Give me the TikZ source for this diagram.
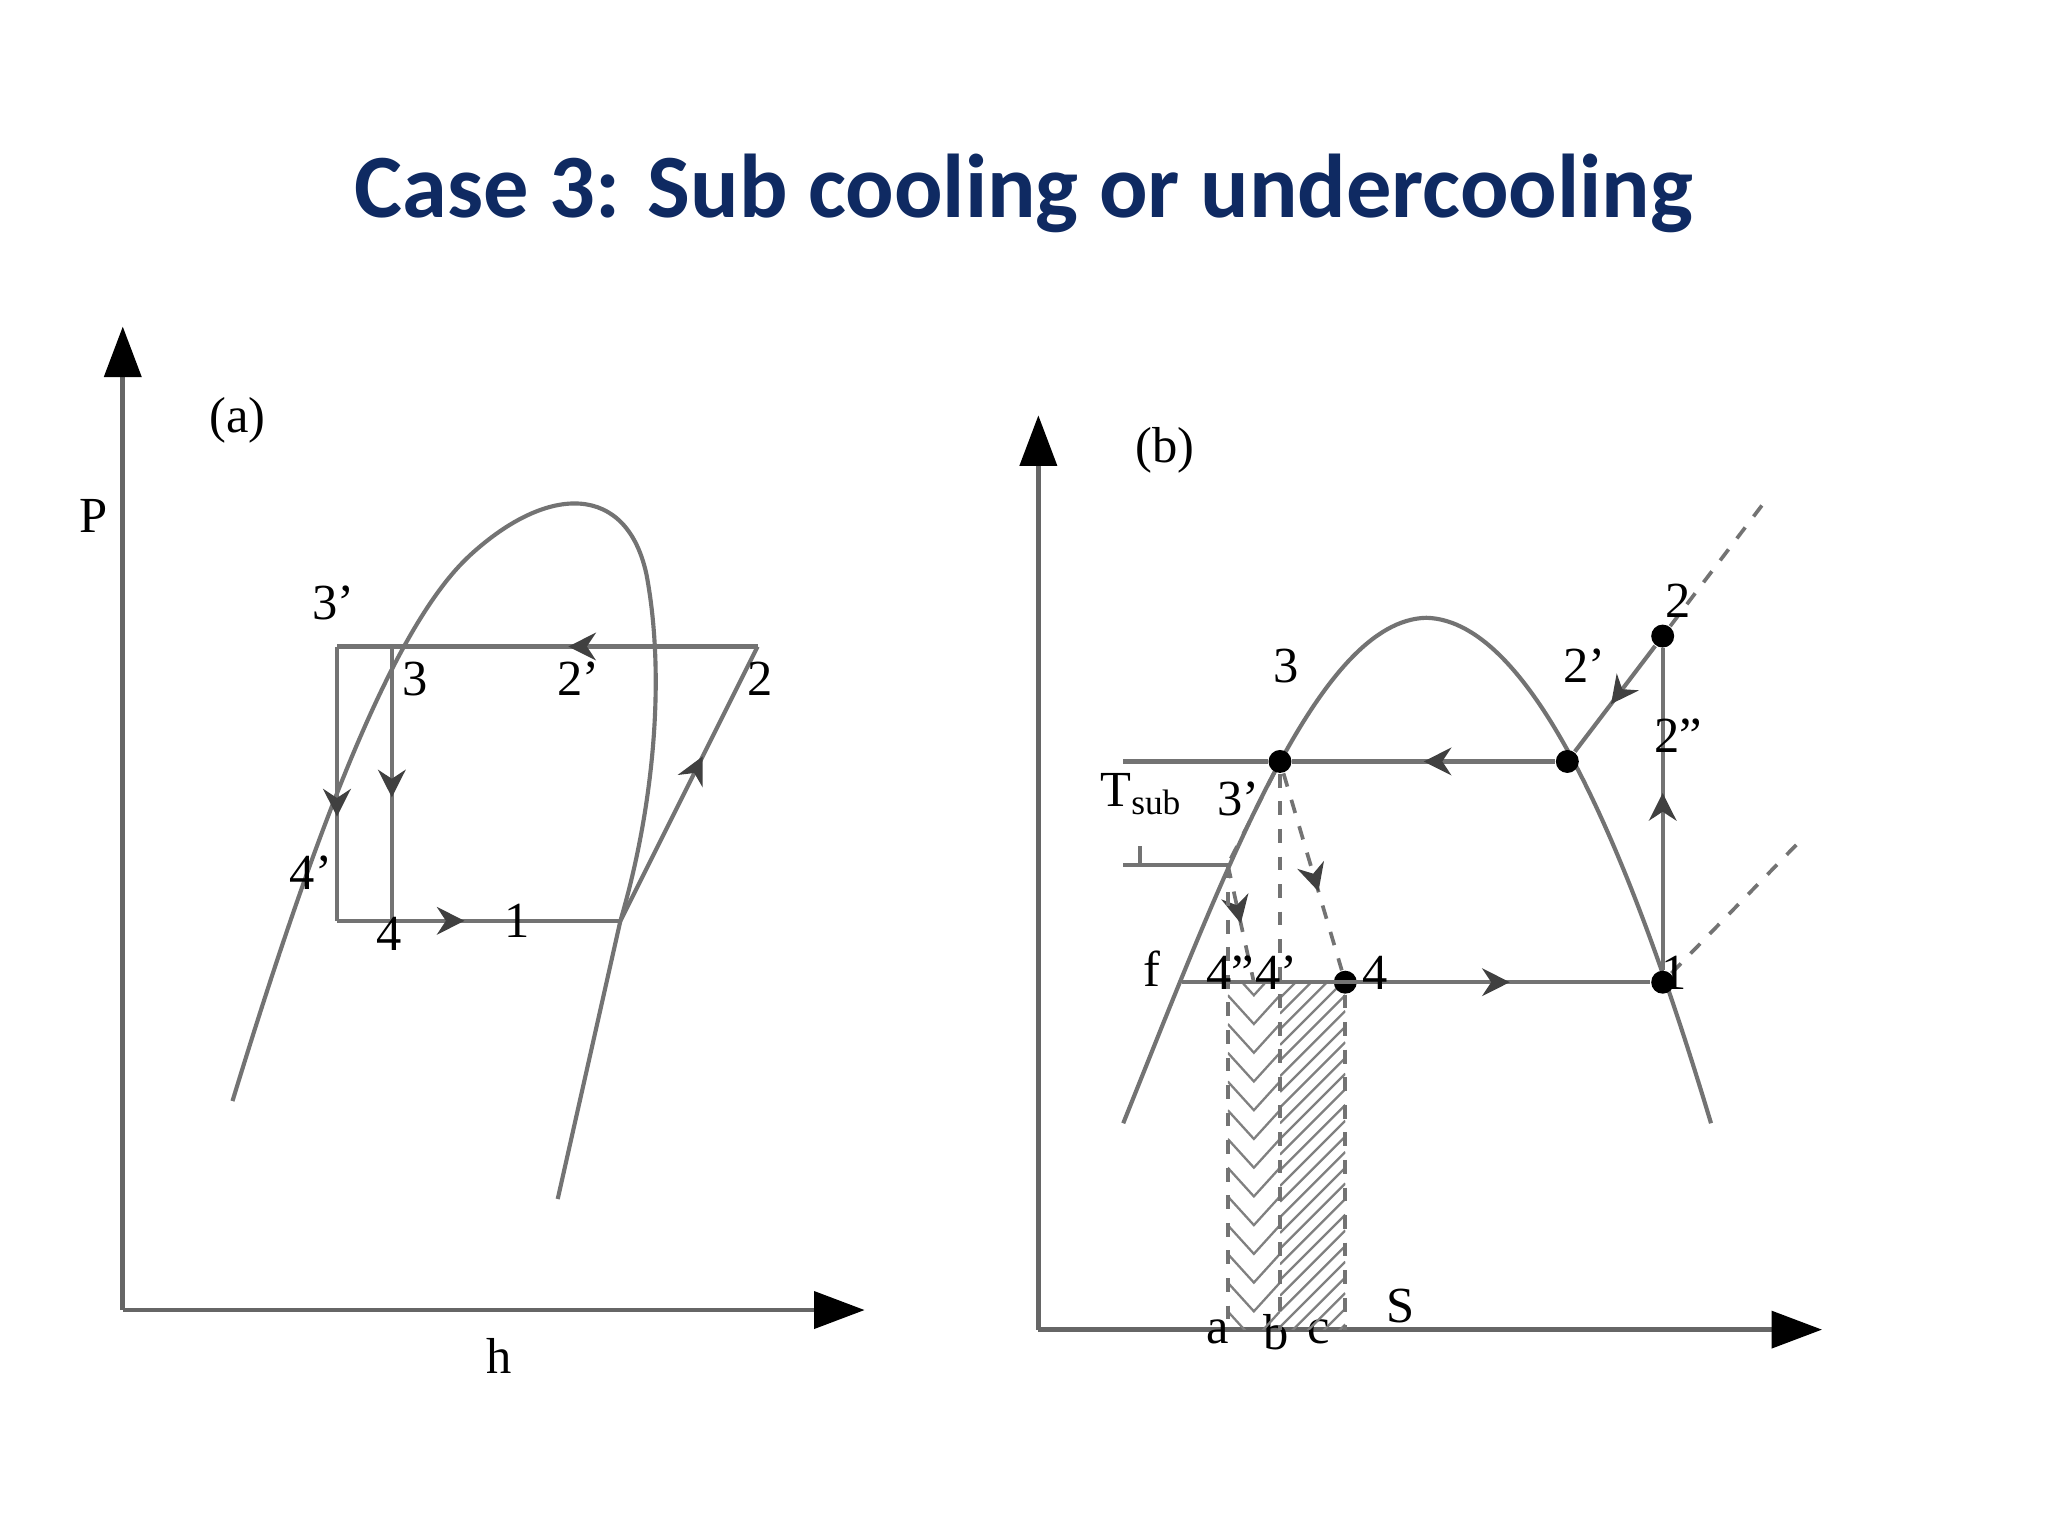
\documentclass[tikz,border=0pt]{standalone}
\usepackage{fontspec}
\setmainfont{Liberation Serif}
\newfontfamily\titlefont{Carlito}
\usetikzlibrary{arrows.meta,decorations.markings}
\definecolor{navy}{HTML}{0F2A62}
\tikzset{
  ln/.style={draw=black!55, line width=0.9pt},
  ax/.style={draw=black!60, line width=1pt, -{Triangle[length=11pt,width=8pt,black]}},
  lb/.style={font=\fontsize{11}{12}\selectfont, inner sep=1pt},
  mid/.style={postaction=decorate, decoration={markings, mark=at position #1 with {\arrow{Stealth[length=6pt,width=6pt,black!75]}}}},
  dot/.style={circle, fill=black, inner sep=0pt, minimum size=5pt},
  dsh/.style={draw=black!55, dashed, line width=0.8pt}
}
\begin{document}
\begin{tikzpicture}[x=0.01cm,y=-0.01cm]
\useasboundingbox (0,0) rectangle (1568,1176);
\fill[white] (0,0) rectangle (1568,1176);
\node[font=\titlefont\bfseries\fontsize{19.7}{23}\selectfont, text=navy] (title) at (784,148) {Case 3: Sub cooling or undercooling};

% ---------- (a) ----------
\coordinate (Ao) at (94,1003);
\coordinate (Ay) at (94,250);
\coordinate (Ax) at (662,1003);
\draw[ax] (Ao) -- (Ay);
\draw[ax] (Ao) -- (Ax);
\node[lb] (P) at (72,395) {P};
\node[lb] (la) at (182,322) {(a)};
\node[lb] (h) at (382,1038) {h};
\draw[ln] (178,843) .. controls (240,640) and (300,480) .. (360,425)
  .. controls (420,370) and (480,370) .. (495,440)
  .. controls (510,520) and (500,620) .. (475,705) -- (427,918);
\coordinate (a3p) at (258,495);
\coordinate (a2) at (580,495);
\coordinate (a4p) at (258,705);
\coordinate (a1) at (475,705);
\coordinate (a3) at (300,495);
\coordinate (a4) at (300,705);
\draw[ln, mid=0.45] (a2) -- (a3p);
\draw[ln, mid=0.62] (a3p) -- (a4p);
\draw[ln, mid=0.45] (a4p) -- (a1);
\draw[ln, mid=0.6] (a1) -- (a2);
\draw[ln, mid=0.55] (a3) -- (a4);
\node[lb] (t3p) at (255,462) {3'};
\node[lb] (t3) at (318,520) {3};
\node[lb] (t2p) at (443,520) {2'};
\node[lb] (t2) at (582,520) {2};
\node[lb] (t4p) at (238,668) {4'};
\node[lb] (t4) at (298,715) {4};
\node[lb] (t1) at (396,705) {1};

% ---------- (b) ----------
\coordinate (Bo) at (795,1018);
\coordinate (By) at (795,318);
\coordinate (Bx) at (1395,1018);
\draw[ax] (Bo) -- (By);
\draw[ax] (Bo) -- (Bx);
\node[lb] (lb) at (892,345) {(b)};
\node[lb] (S) at (1072,1000) {S};
\node[lb] (ta) at (932,1020) {a};
\node[lb] (tb) at (977,1020) {b};
\node[lb] (tc) at (1010,1020) {c};

% hatching
\begin{scope}
\clip (940,752) rectangle (980,1018);
\foreach \y in {740,762,...,1030} \draw[black!50, line width=0.5pt] (940,\y) -- (960,\y+22) -- (980,\y);
\end{scope}
\begin{scope}
\clip (980,752) rectangle (1030,1018);
\foreach \y in {740,752,...,1080} \draw[black!50, line width=0.5pt] (980,\y) -- (1030,\y-50);
\end{scope}

\draw[ln] (860,860) .. controls (940,660) and (1010,475) .. (1092,473)
  .. controls (1175,475) and (1250,660) .. (1310,860);
\node[dot] (b3) at (980,583) {};
\node[dot] (b2p) at (1200,583) {};
\node[dot] (b2) at (1273,487) {};
\node[dot] (b1) at (1273,752) {};
\node[dot] (b4) at (1030,752) {};
\coordinate (bf) at (905,752);
\coordinate (b3p) at (940,662);
\coordinate (b4pp) at (960,752);
\coordinate (b4p) at (980,752);
\coordinate (ext2) at (1352,383);
\coordinate (ext1) at (1380,642);
\draw[ln, mid=0.5] (b2p) -- (b3);
\draw[ln, mid=0.55] (b2) -- (b2p);
\draw[dsh] (b2) -- (ext2);
\draw[ln, mid=0.55] (b1) -- (b2);
\draw[dsh] (b1) -- (ext1);
\draw[ln, mid=0.7] (bf) -- (b1);
\draw[ln] (860,583) -- (b3);
\draw[ln] (860,662) -- (b3p);
\draw[ln] (873,648) -- (873,662);
\draw[dsh, mid=0.6] (b3) -- (b4);
\draw[dsh] (b3) -- (b4p) -- (980,1018);
\draw[dsh, mid=0.5] (b3p) -- (b4pp);
\draw[dsh] (b3) -- (b3p);
\draw[dsh] (b3p) -- (940,1018);
\draw[dsh] (b4) -- (1030,1018);
\node[lb] (s3) at (985,510) {3};
\node[lb] (s2p) at (1213,510) {2'};
\node[lb] (s2) at (1285,460) {2};
\node[lb] (s2pp) at (1285,563) {2''};
\node[lb] (sT) at (874,608) {T\textsubscript{sub}};
\node[lb] (s3p) at (948,612) {3'};
\node[lb] (sf) at (882,742) {f};
\node[lb] (s4pp) at (942,745) {4''};
\node[lb] (s4p) at (977,745) {4'};
\node[lb] (s4) at (1053,745) {4};
\node[lb] (s1) at (1282,745) {1};
\end{tikzpicture}
\end{document}
